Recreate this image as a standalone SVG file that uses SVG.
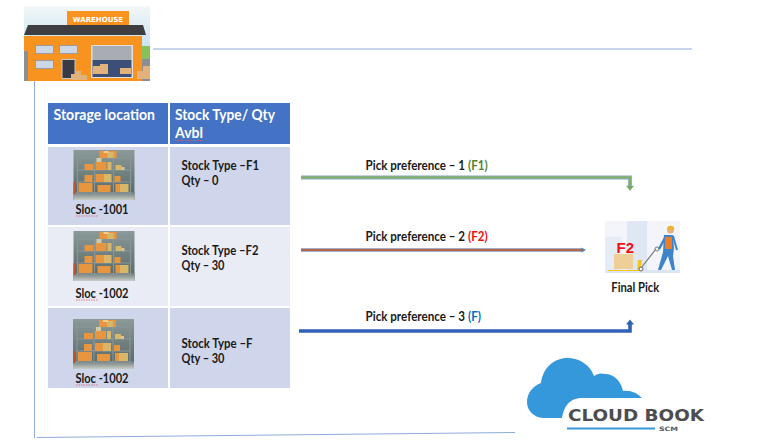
<svg xmlns="http://www.w3.org/2000/svg" xmlns:xlink="http://www.w3.org/1999/xlink" width="767" height="446" viewBox="0 0 767 446">
<style>
text{font-family:"Lato","Liberation Sans",sans-serif;font-weight:700;fill:#1a1a1a}
.h{font-size:15.5px;fill:#fff}
.b{font-size:13px}
.rule{stroke:#8faadc;stroke-width:1;fill:none}
.sq{stroke:#e06060;stroke-width:.8;stroke-dasharray:1.5 1;fill:none}
</style>
<defs>
<linearGradient id="sky" x1="0" y1="0" x2="0" y2="1"><stop offset="0" stop-color="#f2f7f8"/><stop offset="1" stop-color="#a9d3ec"/></linearGradient>
<linearGradient id="floor" x1="0" y1="0" x2="0" y2="1"><stop offset="0" stop-color="#6d7a7a"/><stop offset="1" stop-color="#c9cdc6"/></linearGradient>
<linearGradient id="wall" x1="0" y1="0" x2="0" y2="1"><stop offset="0" stop-color="#8b9a98"/><stop offset="1" stop-color="#546464"/></linearGradient>
<g id="shelf">
<rect width="61" height="50" fill="url(#wall)"/>
<rect y="42" width="61" height="8" fill="url(#floor)"/>
<path d="M3 8H58M3 20H58M3 32H58M3 43H58M4 8V44M21 8V44M40 8V44M57 8V44" stroke="#88989a" stroke-width="1" fill="none"/>
<path d="M0 32h2v12H0z" fill="#c0532a"/>
<g fill="#e8953f">
<rect x="26" y="1" width="17" height="7"/><rect x="11" y="14" width="9" height="6"/><rect x="22" y="12" width="11" height="8"/>
<rect x="11" y="25" width="8" height="7"/><rect x="22" y="24" width="8" height="8"/><rect x="41" y="26" width="6" height="6"/>
<rect x="5" y="33" width="14" height="9"/><rect x="24" y="35" width="13" height="7"/><rect x="42" y="34" width="4" height="8"/>
</g>
<g fill="#d8b868">
<rect x="34" y="2" width="6" height="6"/><rect x="34" y="12" width="4" height="8"/><rect x="42" y="15" width="6" height="5"/><rect x="30" y="24" width="8" height="8"/><rect x="46" y="34" width="9" height="8"/>
</g>
<g fill="#f4e2b4" opacity=".7"><rect x="30" y="1" width="5" height="2"/><rect x="23" y="8" width="5" height="4"/><rect x="48" y="17" width="3" height="3"/></g>
</g>
</defs>
<rect width="767" height="446" fill="#fff"/>

<g id="frame-lines">
<path class="rule" d="M153 49H692"/>
<path class="rule" d="M34.500 81V438"/>
<path class="rule" d="M37 437.500L515 432.500"/>
</g>

<g id="warehouse">
<rect x="24" y="6" width="126" height="75" fill="url(#sky)"/>
<rect x="142" y="46" width="8" height="14" fill="#86c25a"/>
<rect x="142" y="59" width="8" height="22" fill="#8a8f96"/>
<rect x="24" y="36" width="118" height="45" fill="#f7931e"/>
<rect x="24" y="51" width="4" height="30" fill="#8a8f96"/>
<rect x="67" y="11" width="62" height="14" fill="#f7931e"/>
<text x="98" y="21.500" text-anchor="middle" style="font-family:'DejaVu Sans',sans-serif;font-size:7px;fill:#fff">WAREHOUSE</text>
<path d="M28 25H143L146 35H24Z" fill="#3d3d42"/>
<g fill="#cdd6e4" stroke="#8c93a8" stroke-width=".8">
<rect x="35.500" y="45.500" width="18" height="8"/><rect x="59.500" y="45.500" width="18" height="8"/><rect x="35.500" y="60.500" width="18" height="8"/>
</g>
<rect x="62" y="59.500" width="13" height="19" fill="#3a3a44" stroke="#c9c9c9"/>
<rect x="91" y="45" width="42" height="33" fill="#e0e0e0"/>
<rect x="92.500" y="46" width="39" height="14" fill="#a9adb3"/>
<rect x="92.500" y="60" width="39" height="17" fill="#3b4f77"/>
<g fill="#e3b27c">
<path d="M93 74V66H100V64H108V74Z"/><rect x="120" y="68" width="11" height="6"/><path d="M71 80V74H75V71H81V75H87V80Z"/><path d="M137 79V71H143V66H150V79Z"/>
</g>
</g>

<g id="table">
<rect x="48" y="103" width="120" height="41" fill="#4472c4"/>
<rect x="170" y="103" width="120" height="41" fill="#4472c4"/>
<rect x="48" y="147" width="120" height="78" fill="#cfd5ea"/>
<rect x="170" y="147" width="120" height="78" fill="#cfd5ea"/>
<rect x="48" y="227" width="120" height="79" fill="#e9ebf5"/>
<rect x="170" y="227" width="120" height="79" fill="#e9ebf5"/>
<rect x="48" y="308" width="120" height="80" fill="#cfd5ea"/>
<rect x="170" y="308" width="120" height="80" fill="#cfd5ea"/>
<text class="h" x="53.500" y="120" textLength="101.500" lengthAdjust="spacingAndGlyphs">Storage location</text>
<text class="h" x="175" y="120" textLength="100" lengthAdjust="spacingAndGlyphs">Stock Type/ Qty</text>
<text class="h" x="175" y="138" textLength="28" lengthAdjust="spacingAndGlyphs">Avbl</text>
<path class="sq" d="M175 140.500H203"/>
</g>

<g id="row-1">
<use xlink:href="#shelf" href="#shelf" x="73.500" y="150"/>
<text class="b" x="75.500" y="214" textLength="53" lengthAdjust="spacingAndGlyphs">Sloc -1001</text>
<path class="sq" d="M76 216H98"/>
<text class="b" x="181.500" y="170" textLength="77.500" lengthAdjust="spacingAndGlyphs">Stock Type –F1</text>
<text class="b" x="181.500" y="185" textLength="37" lengthAdjust="spacingAndGlyphs">Qty – 0</text>
</g>
<g id="row-2">
<use xlink:href="#shelf" href="#shelf" x="73.500" y="231"/>
<text class="b" x="75.500" y="298" textLength="53" lengthAdjust="spacingAndGlyphs">Sloc -1002</text>
<path class="sq" d="M76 300H98"/>
<text class="b" x="181.500" y="255" textLength="77" lengthAdjust="spacingAndGlyphs">Stock Type –F2</text>
<text class="b" x="181.500" y="270" textLength="43" lengthAdjust="spacingAndGlyphs">Qty – 30</text>
</g>
<g id="row-3">
<use xlink:href="#shelf" href="#shelf" x="73" y="319"/>
<text class="b" x="75.500" y="383" textLength="53" lengthAdjust="spacingAndGlyphs">Sloc -1002</text>
<path class="sq" d="M76 385H98"/>
<text class="b" x="181.500" y="348" textLength="71" lengthAdjust="spacingAndGlyphs">Stock Type –F</text>
<text class="b" x="181.500" y="363" textLength="43" lengthAdjust="spacingAndGlyphs">Qty – 30</text>
</g>

<g id="connectors">
<path d="M301 177.500H630V187" fill="none" stroke="#8ea5b8" stroke-width="3.800"/>
<path d="M301 177.500H630V187" fill="none" stroke="#78b84e" stroke-width="1.600"/>
<path d="M626.500 186H633.500L630 190.500Z" fill="#70ad47" stroke="#8ea5b8" stroke-width=".6"/>
<path d="M301 250H582" fill="none" stroke="#7f93b8" stroke-width="3.400"/>
<path d="M301 250H582" fill="none" stroke="#c9591f" stroke-width="1.600"/>
<path d="M581.500 247.500L586 250L581.500 252.500Z" fill="#5b7fb0"/>
<path d="M299 331H630V323" fill="none" stroke="#2f62b5" stroke-width="3.600"/>
<path d="M626 324.500H634L630 319.500Z" fill="#2f62b5"/>
</g>

<g id="pick-labels">
<text class="b" transform="translate(365.500 170) scale(.894 1)">Pick preference – 1 <tspan style="fill:#548235">(F1)</tspan></text>
<text class="b" transform="translate(365.500 241) scale(.894 1)">Pick preference – 2 <tspan style="fill:#f01010">(F2)</tspan></text>
<text class="b" transform="translate(365.500 321) scale(.894 1)">Pick preference – 3 <tspan style="fill:#0070c0">(F)</tspan></text>
</g>

<g id="final-pick">
<rect x="605" y="221" width="75" height="52" fill="#f3f5fa"/>
<rect x="627" y="221" width="20" height="50" fill="#dfe7f5"/>
<rect x="605" y="237" width="17" height="34" fill="#e6ecf6"/>
<rect x="605" y="270" width="75" height="3" fill="#dde5f4"/>
<rect x="614" y="254" width="19" height="15" fill="#efcf98"/>
<path d="M608 270H637L638 260H642L640 271H608Z" fill="#f2c61f"/>
<path d="M641 268L656 249" stroke="#777" stroke-width="1.200"/>
<circle cx="657" cy="249" r="2" fill="#fff" stroke="#777"/>
<circle cx="641" cy="269" r="2" fill="#fff" stroke="#666"/>
<path d="M659 249L666 236" stroke="#3f84c8" stroke-width="2.500" fill="none"/>
<path d="M664 235H673L674 248L673 256L675 270H672L668 256L661 270H658L663 252Z" fill="#3f84c8"/>
<path d="M673 236L677 250" stroke="#3f84c8" stroke-width="2" fill="none"/>
<rect x="665" y="237" width="7" height="12" fill="#ed7d21"/>
<circle cx="670.500" cy="230" r="3.500" fill="#e9b07d"/>
<path d="M667 229.500a3.700 3.700 0 0 1 7.400 0Z" fill="#f0b429"/>
<text x="616.500" y="253" style="font-size:15px;fill:#f01010;font-family:'Liberation Sans',sans-serif">F2</text>
<text class="b" x="611.300" y="292" textLength="48" lengthAdjust="spacingAndGlyphs">Final Pick</text>
</g>

<g id="logo">
<path d="M562 418H545C533 418 527 410 527 402C527 393 533 386 541 383C543 367 555 358 567 358C580 358 590 365 594 376C598 373 602 373 605 374C615 374 621 382 623 391C631 390 637 393 642 398H582C569 398 564 407 562 418Z" fill="#3498db"/>
<text x="568" y="421" textLength="136" lengthAdjust="spacingAndGlyphs" style="font-family:'DejaVu Sans',sans-serif;font-size:16px;fill:#4d4d4f">CLOUD BOOK</text>
<rect x="567" y="427.500" width="88" height="2" fill="#3498db"/>
<text x="659" y="431" textLength="19" lengthAdjust="spacingAndGlyphs" style="font-family:'DejaVu Sans',sans-serif;font-size:6px;fill:#55595c">SCM</text>
</g>
</svg>
